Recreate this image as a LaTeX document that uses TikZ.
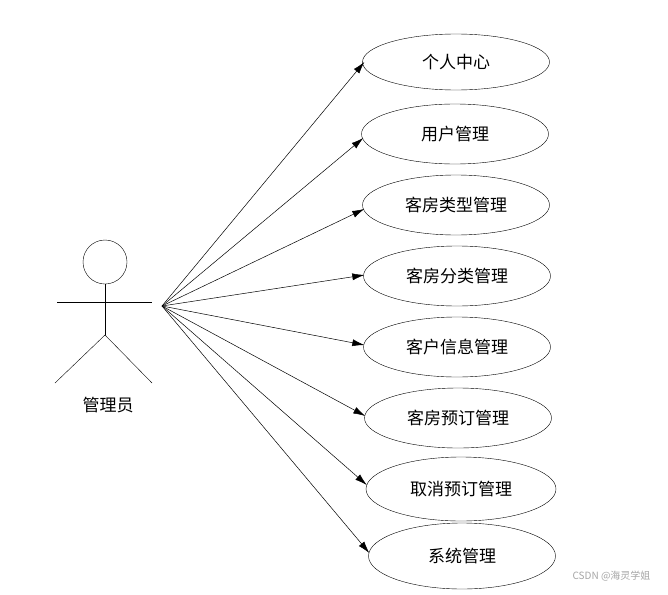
\documentclass[tikz,border=0pt]{standalone}
\usepackage{fontspec}
\setmainfont{Liberation Serif}
\newfontfamily\cjk{Noto Sans CJK SC}
\usetikzlibrary{shapes.geometric,arrows.meta}
\begin{document}
\begin{tikzpicture}[x=1pt,y=-1pt,
  uc/.style={draw,ellipse,minimum width=187pt,minimum height=60pt,font=\cjk\fontsize{17}{17}\selectfont,inner sep=0pt},
  conn/.style={-{Latex[length=12pt,width=7pt]},line width=0.5pt}]
\useasboundingbox (0,0) rectangle (668,594);
\fill[white] (0,0) rectangle (668,594);
% actor
\draw (105,262) circle (22);
\draw (105,284) -- (105,335);
\draw (57,302) -- (152,302);
\draw (105,335) -- (55,383);
\draw (105,335) -- (152,383);
\node[font=\cjk\fontsize{17}{17}\selectfont] (lbl) at (108,405) {管理员};
\coordinate (hand) at (162,306);
\node[uc,minimum height=56pt] (u1) at (456,62) {个人中心};
\node[uc] (u2) at (455,134) {用户管理};
\node[uc] (u3) at (456,205) {客房类型管理};
\node[uc] (u4) at (457,276) {客房分类管理};
\node[uc] (u5) at (457,347) {客户信息管理};
\node[uc] (u6) at (458,418) {客房预订管理};
\node[uc,minimum width=190pt,minimum height=64pt] (u7) at (461,489) {取消预订管理};
\node[uc,minimum height=66pt] (u8) at (462,556) {系统管理};
\draw[conn] (hand) -- ([xshift=2pt]u1.west);
\draw[conn] (hand) -- ([xshift=2pt,yshift=-4pt]u2.west);
\draw[conn] (hand) -- ([xshift=2pt,yshift=-4pt]u3.west);
\draw[conn] (hand) -- ([xshift=1pt,yshift=1pt]u4.west);
\draw[conn] (hand) -- ([xshift=1pt,yshift=2pt]u5.west);
\draw[conn] (hand) -- ([xshift=1pt,yshift=2pt]u6.west);
\draw[conn] (hand) -- ([xshift=1pt,yshift=4pt]u7.west);
\draw[conn] (hand) -- ([xshift=1pt,yshift=3pt]u8.west);
\node[text=gray!70,font=\cjk\fontsize{10}{10}\selectfont,anchor=east] (wm) at (654,576) {CSDN @海灵学姐};
\end{tikzpicture}
\end{document}
